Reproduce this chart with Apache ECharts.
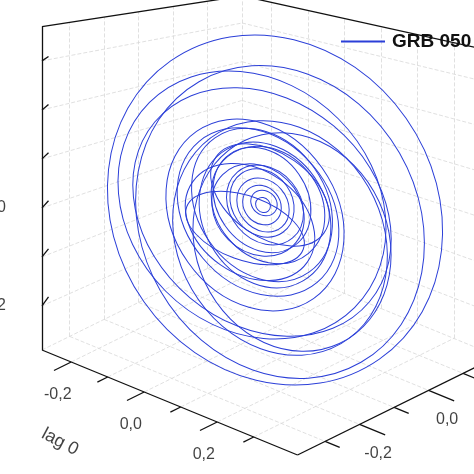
<!DOCTYPE html>
<html><head><meta charset="utf-8">
<script src="https://cdn.jsdelivr.net/npm/echarts@6/dist/echarts.min.js"></script>
<style>html,body{margin:0;padding:0;background:#fff}#c{width:474px;height:474px}</style>
</head><body><div id="c"></div>
<script>
// axis ranges and ticks (data units)
const uRange=[-0.28,0.42], vRange=[-0.38,0.2], wRange=[-0.29,0.37];
const lagTicks=[-0.2,-0.1,0,0.1,0.2,0.3];
const lagLabels=[-0.2,0,0.2];
const depthTicks=[-0.3,-0.2,-0.1,0,0.1];
const depthLabels=[-0.2,0];
const vertTicks=[-0.2,-0.1,0,0.1,0.2,0.3];
const vertLabels=[-0.2,0];
// attractor loops: center x, center y, semi-axes a, b, tilt (deg) in projected view
const loopCx=[275,280,252,262,280,292,255,258,262,265,250,268,262,258,265,262,263,262,264,263,245,270];
const loopCy=[210,222,205,212,238,242,215,212,205,215,222,205,200,210,205,203,205,205,203,205,228,195];
const loopA=[182,162,145,140,122,112,102,92,82,76,70,63,56,50,43,36,29,21,14,8,62,66];
const loopB=[160,138,122,112,102,96,82,72,64,62,52,52,45,42,35,30,24,18,12,7,32,42];
const loopAng=[55,60,45,40,60,65,55,50,55,60,35,50,55,45,50,55,50,50,40,50,20,35];

function P(u,v,w){
  const du=(u-uRange[0]), dv=(v-vRange[0]), dw=(w-wRange[0]);
  const f=1+0.15*du/0.7-0.21*dv/0.58;
  return [42+du*365+dv*345, 350+du*150-dv*170-dw*490*f];
}
const fmt=x=>x.toFixed(1).replace('.',',').replace('-0,0','0,0');
const frame=[], grid=[], ticks=[], labels=[];
const [u0,u1]=uRange,[v0,v1]=vRange,[w0,w1]=wRange;
frame.push([P(u0,v0,w0),P(u0,v0,w1)],[P(u0,v0,w0),P(u1,v0,w0)],[P(u1,v0,w0),P(u1,v1,w0)],
  [P(u0,v0,w1),P(u0,v1,w1)],[P(u0,v1,w1),P(u1,v1,w1)]);
grid.push([P(u0,v0,w0),P(u0,v1,w0)],[P(u0,v1,w0),P(u1,v1,w0)],[P(u0,v1,w0),P(u0,v1,w1)],[P(u1,v1,w0),P(u1,v1,w1)]);
lagTicks.forEach(t=>{grid.push([P(t,v0,w0),P(t,v1,w0)],[P(t,v1,w0),P(t,v1,w1)]);
  const big=lagLabels.includes(t);ticks.push([P(t,v0,w0),P(t,v0-(big?0.05:0.03),w0)]);});
depthTicks.forEach(t=>{grid.push([P(u0,t,w0),P(u1,t,w0)],[P(u0,t,w0),P(u0,t,w1)]);
  const big=depthLabels.includes(t);ticks.push([P(u1,t,w0),P(u1+(big?0.07:0.04),t,w0)]);});
vertTicks.forEach(t=>{grid.push([P(u0,v0,t),P(u0,v1,t)],[P(u0,v1,t),P(u1,v1,t)]);
  ticks.push([P(u0,v0,t),P(u0-0.02,v0+0.04,t)]);});
lagLabels.forEach(t=>{const p=P(t,v0-0.12,w0);labels.push({value:[p[0]+28,p[1]+12],label:{formatter:fmt(t)}});});
depthLabels.forEach(t=>{const p=P(u1+0.1,t,w0);labels.push({value:[p[0]-18,p[1]+14],label:{formatter:fmt(t)}});});
vertLabels.forEach(t=>{const p=P(u0,v0,t);labels.push({value:[p[0]-36,p[1]],label:{formatter:fmt(t),align:'right'}});});
const titleP=[60,442];

const ch=echarts.init(document.getElementById('c'));
const lineSeries=(d,style)=>({type:'lines',coordinateSystem:'cartesian2d',silent:true,data:d.map(c=>({coords:c})),lineStyle:style,z:1});
ch.setOption({
  animation:false,
  grid:{left:0,right:0,top:0,bottom:0},
  xAxis:{type:'value',min:0,max:474,show:false},
  yAxis:{type:'value',min:0,max:474,inverse:true,show:false},
  legend:{left:336,top:27,itemWidth:44,itemHeight:2,itemGap:0,icon:'rect',data:['GRB 050'],
    textStyle:{fontFamily:'Liberation Sans',fontWeight:'bold',fontSize:19,color:'#111',padding:[0,0,0,2]}},
  series:[
    lineSeries(grid,{color:'#d8d8d8',width:0.8,type:[4,2],opacity:1}),
    lineSeries(frame,{color:'#111',width:1.3,opacity:1}),
    lineSeries(ticks,{color:'#111',width:1.3,opacity:1}),
    {type:'scatter',symbolSize:0,silent:true,data:labels,
      label:{show:true,position:'inside',color:'#111',fontFamily:'Liberation Sans',fontSize:16}},
    {type:'scatter',symbolSize:0,silent:true,data:[{value:titleP}],
      label:{show:true,formatter:'lag 0',rotate:-28,position:'inside',color:'#111',fontFamily:'Liberation Sans',fontSize:18}},
    {type:'custom',name:'GRB 050',color:'#2b3fd8',z:5,silent:true,
      data:loopCx.map((x,i)=>[x,loopCy[i],loopA[i],loopB[i],loopAng[i]]),
      renderItem:(params,api)=>{
        const c=api.coord([api.value(0),api.value(1)]);
        const s=api.size([api.value(2),api.value(3)]);
        return {type:'ellipse',x:c[0],y:c[1],rotation:-api.value(4)*Math.PI/180,
          shape:{cx:0,cy:0,rx:s[0],ry:s[1]},style:{fill:'none',stroke:'#2b3fd8',lineWidth:1}};
      }}
  ]
});
</script></body></html>
